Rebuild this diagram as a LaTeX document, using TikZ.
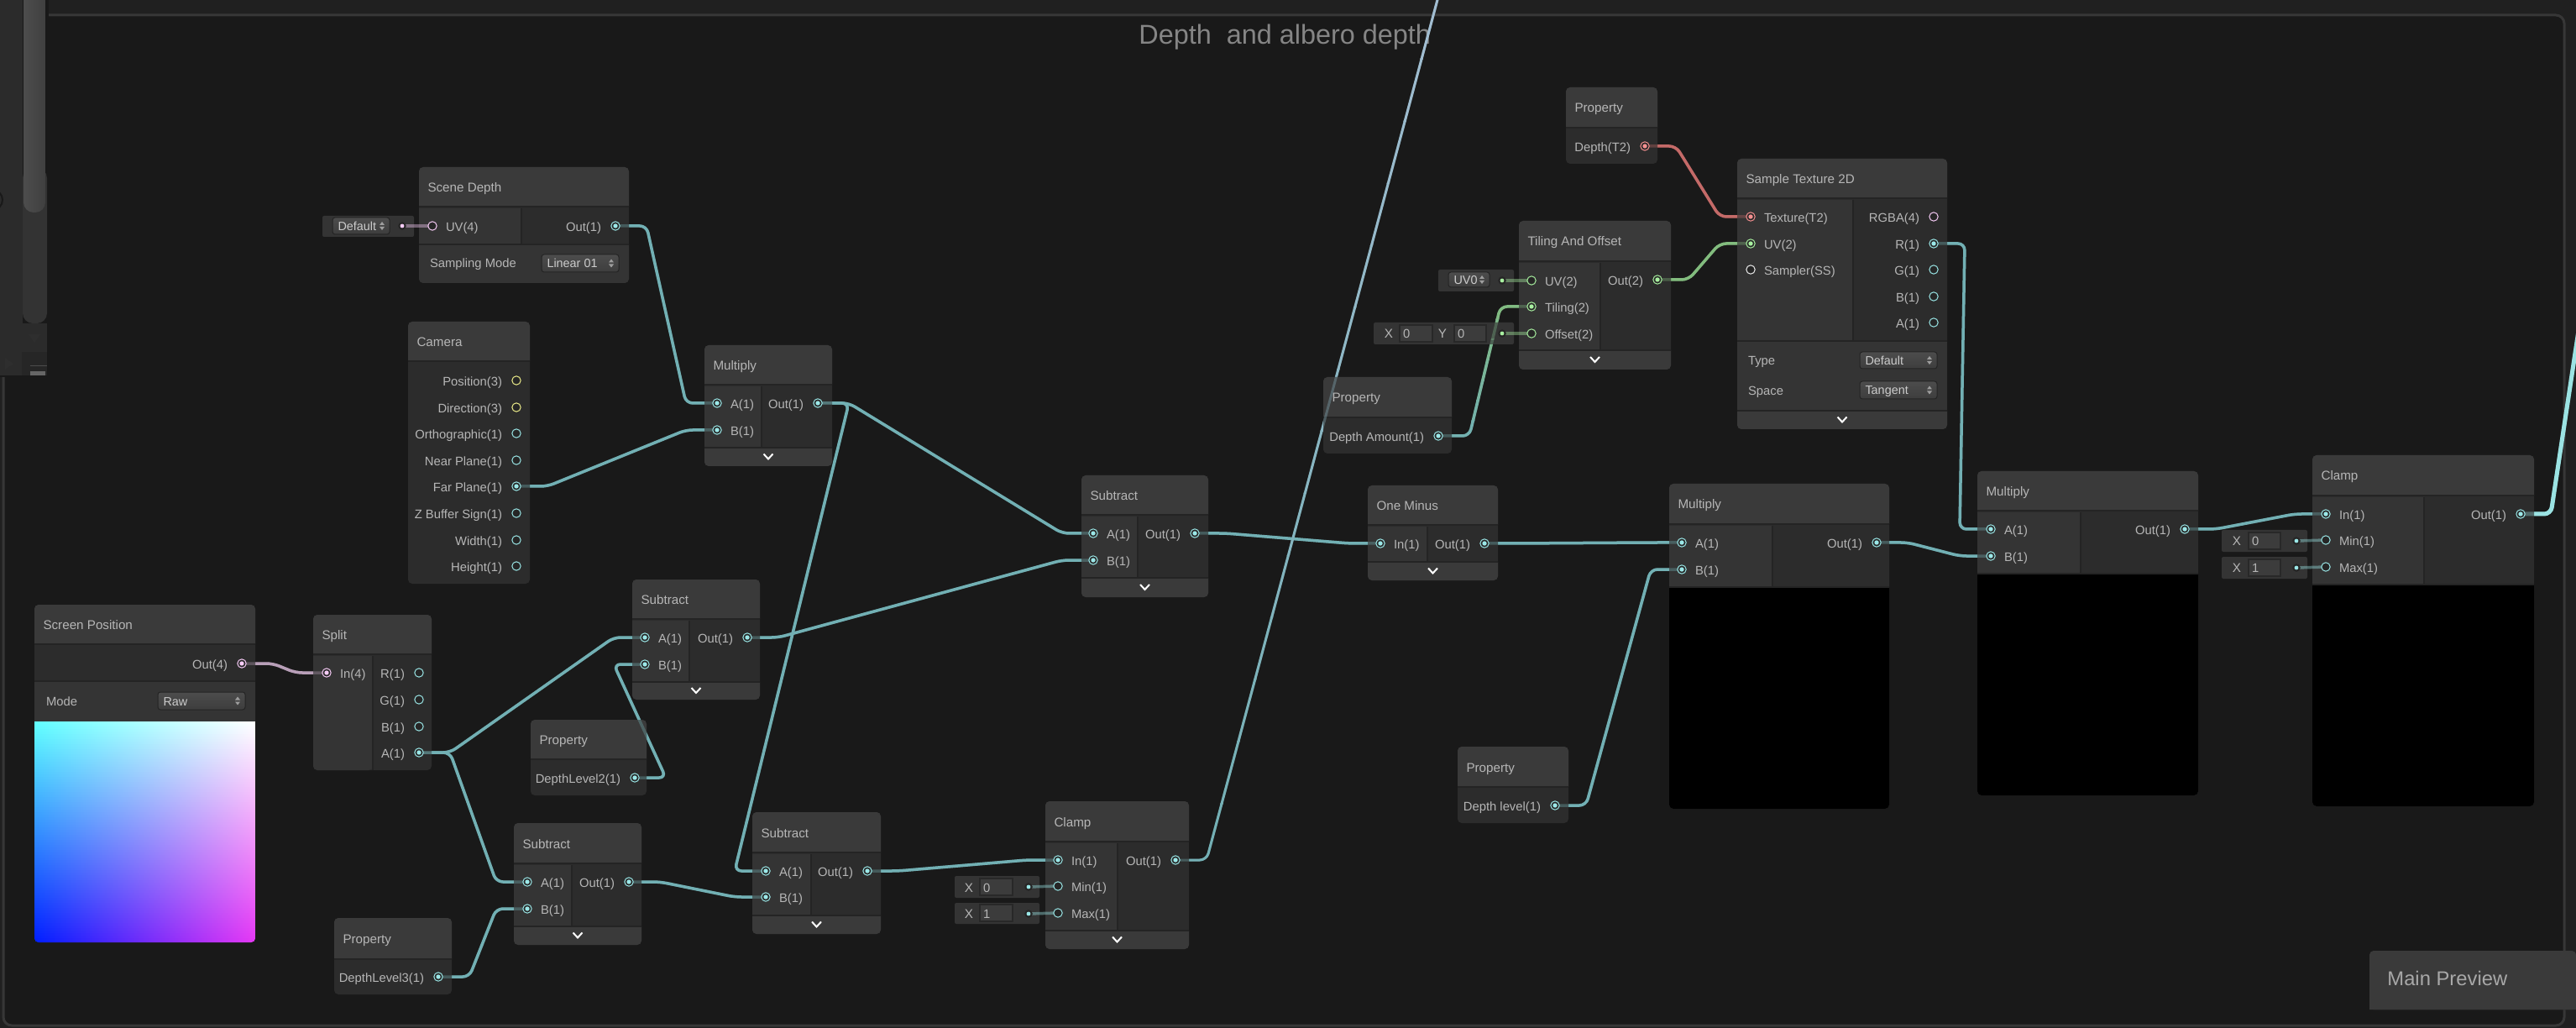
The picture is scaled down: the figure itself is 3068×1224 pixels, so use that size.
\documentclass[tikz,border=0pt]{standalone}
\usepackage{fontspec}
\setmainfont{Liberation Sans}
\usetikzlibrary{calc}
\definecolor{outerbg}{HTML}{202020}
\definecolor{innerbg}{HTML}{191919}
\definecolor{framec}{HTML}{373737}
\definecolor{hdrc}{HTML}{3A3A3A}
\definecolor{bodyc}{HTML}{2C2C2C}
\definecolor{colc}{HTML}{343434}
\definecolor{rulec}{HTML}{242424}
\definecolor{txtc}{HTML}{B6B6B6}
\definecolor{pfill}{HTML}{262626}
\definecolor{ccy}{HTML}{9BE8E8}
\definecolor{cye}{HTML}{F0F08C}
\definecolor{cpk}{HTML}{F7CCF7}
\definecolor{cgr}{HTML}{A8F0A0}
\definecolor{crd}{HTML}{F59090}
\definecolor{cwh}{HTML}{F0F0F0}
\definecolor{wteal}{HTML}{72B0B4}
\definecolor{wbright}{HTML}{9BE3E3}
\definecolor{wpink}{HTML}{B89FB8}
\definecolor{wgreen}{HTML}{82BC7E}
\definecolor{wred}{HTML}{C46A68}
\definecolor{wblue}{HTML}{A3BDD2}
\definecolor{btnline}{HTML}{242424}
\definecolor{fieldf}{HTML}{3C3C3C}
\definecolor{fieldl}{HTML}{282828}
\pgfdeclarelayer{base}
\pgfdeclarelayer{wireslow}
\pgfdeclarelayer{wireshigh}
\pgfdeclarelayer{portlayer}
\pgfsetlayers{base,wireslow,main,wireshigh,portlayer}
\tikzset{
  cardbody/.style={fill=bodyc,rounded corners=2.5pt,inner sep=0pt,outer sep=0pt,draw=none},
  hdr/.style={fill=hdrc},
  rule/.style={draw=rulec,line width=1pt},
  ttl/.style={anchor=base west,inner sep=0pt,outer sep=0pt,text=txtc,font=\fontsize{7.6}{9}\selectfont},
  lblw/.style={ttl,font=\fontsize{7.4}{9}\selectfont},
  lble/.style={lblw,anchor=base east},
  cport/.style={circle,draw=#1,fill=pfill,line width=.5pt,minimum size=5.2pt,inner sep=0pt,outer sep=0pt},
  cdot/.style={cport=#1,path picture={\fill[#1] (path picture bounding box.center) circle (1.35pt);}},
  wire/.style={line width=1.75pt,rounded corners=4pt,line cap=butt},
  stubw/.style={line width=1.75pt,opacity=.4},
  chipc/.style={fill=colc,rounded corners=1pt},
  fieldc/.style={fill=fieldf,draw=fieldl,line width=.6pt},
}
\newcount\lblc
\newcommand\nxt{\global\advance\lblc by 1 }
\newcommand\lab[3]{\nxt\node[lblw] (L\the\lblc) at ({#1},{(#2)+6.5}) {#3};}
\newcommand\labr[3]{\nxt\node[lble] (L\the\lblc) at ({#1},{(#2)+6.5}) {#3};}
\newcommand\card[7]{%
  \node[cardbody,minimum width={(#4-#2)*.5pt},minimum height={(#5-#3)*.5pt}] (#1) at ({(#2+#4)/2},{(#3+#5)/2}) {};
  \fill[hdr] (#2,#6) [rounded corners=2.5pt] -- (#2,#3) -- (#4,#3) [sharp corners] -- (#4,#6) -- cycle;
  \draw[rule] (#2,#6) -- (#4,#6);
  \node[ttl] (#1t) at ({#2+10.5},{(#3+#6)/2+6}) {#7};
}
\newcommand\incol[4]{\fill[colc] (#1,#2) rectangle (#3,#4);\draw[rule] (#3,#2) -- (#3,#4);}
\newcommand\botfill[5]{%
  \fill[#5] (#1,#2) [rounded corners=2.5pt] -- (#1,#4) -- (#3,#4) [sharp corners] -- (#3,#2) -- cycle;
  \draw[rule] (#1,#2) -- (#3,#2);}
\newcommand\foot[4]{\botfill{#1}{#2}{#3}{#4}{hdrc}%
  \draw[white,line width=1pt] ({(#1+#3)/2-5.5},{(#2+#4)/2-3.5}) -- ({(#1+#3)/2},{(#2+#4)/2+2.5}) -- ({(#1+#3)/2+5.5},{(#2+#4)/2-3.5});}
\newcommand\prevb[4]{\botfill{#1}{#2}{#3}{#4}{black}}
\newcommand\pn[5]{\begin{pgfonlayer}{portlayer}\node[#4] (#1) at (#2,#3) {};\end{pgfonlayer}}
\newcommand\ip[5]{\pn{#1}{#2}{#3}{#4}{}\lab{#2+16}{#3}{#5}}
\newcommand\op[5]{\pn{#1}{#2}{#3}{#4}{}\labr{#2-17}{#3}{#5}}
\newcommand\dotn[4]{\begin{pgfonlayer}{portlayer}\fill[black!85] (#2,#3) circle (2.4pt);\node[circle,fill=#4,inner sep=0pt,minimum size=2.4pt] (#1) at (#2,#3) {};\end{pgfonlayer}}
\newcommand\chip[4]{\fill[chipc] (#1,#2) rectangle (#3,#4);}
\newcommand\drop[5]{%
  \shade[top color=white!30!black,bottom color=white!24!black,draw=btnline,line width=.5pt,rounded corners=1.5pt] (#1,#2) rectangle (#3,#4);
  \nxt\node[lblw,text=white!80!black,font=\fontsize{7.2}{9}\selectfont] (L\the\lblc) at ({#1+6.5},{(#2+#4)/2+5.5}) {#5};
  \fill[white!62!black] ({#3-12},{(#2+#4)/2-1}) -- ({#3-9},{(#2+#4)/2-5}) -- ({#3-6},{(#2+#4)/2-1}) -- cycle;
  \fill[white!62!black] ({#3-12},{(#2+#4)/2+1}) -- ({#3-9},{(#2+#4)/2+5}) -- ({#3-6},{(#2+#4)/2+1}) -- cycle;}
\newcommand\field[5]{\fill[fieldc] (#1,#2) rectangle (#3,#4);
  \nxt\node[lblw] (L\the\lblc) at ({#1+4},{(#2+#4)/2+6}) {#5};}
\newcommand\axl[3]{\nxt\node[ttl,anchor=base] (L\the\lblc) at ({#1},{(#2)+6}) {#3};}
\newcommand\W[3]{\draw[wire,color=#3] (#1.center) -- ++(37,0) -- ($(#2.center)+(-37,0)$) -- (#2.center);}
\newcommand\GW[7]{\foreach \k in {1,...,#6}{%
   \pgfmathsetmacro\ya{#2+(#3-#2)*(\k-1)/#6}
   \pgfmathsetmacro\yb{#2+(#3-#2)*\k/#6+1}
   \pgfmathsetmacro\mx{100*(\k-.5)/#6}
   \begin{scope}\clip (0,\ya) rectangle (3068,\yb);\draw[wire,line width=#7,color={#5!\mx!#4}] #1;\end{scope}}}
\newcommand\wirelist{%
  \W{sdOut}{muAA}{wteal}
  \W{caFar}{muAB}{wteal}
  \W{spOut}{slIn}{wpink}
  \W{slA}{saA}{wteal}
  \W{slA}{sdA}{wteal}
  \W{pbOut}{saB}{wteal}
  \W{pcOut}{sdB}{wteal}
  \W{sdO}{scB}{wteal}
  \W{muAO}{sbA}{wteal}
  \W{muAO}{scA}{wteal}
  \W{saO}{sbB}{wteal}
  \W{scO}{clIn}{wteal}
  \W{sbO}{omIn}{wteal}
  \W{omO}{mbA}{wteal}
  \W{plO}{mbB}{wteal}
  \W{mbO}{mcB}{wteal}
  \W{pdO}{txT}{wred}
  \W{tiO}{txUV}{wgreen}
  \W{txR}{mcA}{wteal}
  \W{mcO}{crIn}{wteal}
  \GW{(clO.center) -- ++(37,0) -- (offtop)}{-4}{1030}{wblue}{wteal}{14}{1.5pt}
  \GW{(paO.center) -- ++(37,0) -- ($(tiT.center)+(-37,0)$) -- (tiT.center)}{355}{525}{wgreen}{wteal}{7}{1.75pt}
  \draw[wire,color=wbright,line width=2.5pt] (crO.center) -- ++(36,0) -- (offright);
}
\begin{document}
\begin{tikzpicture}[x=.5pt,y=-.5pt]
\useasboundingbox (0,0) rectangle (3068,1224);
\begin{pgfonlayer}{base}
  \fill[outerbg] (0,0) rectangle (3068,1224);
  \fill[innerbg,draw=framec,line width=1.5pt,rounded corners=5pt] (4,18) rectangle (3054,1221);
  \node[anchor=base west,inner sep=0pt,text=white!52!black,font=\fontsize{16.2}{18}\selectfont] (graphTitle) at (1356,53) {Depth\ \ and albero depth};
\end{pgfonlayer}
% left side panel
\fill[innerbg] (0,0) rectangle (58,449);
\fill[white!17!black] (0,0) rectangle (27,419);
\draw[white!10!black,line width=1pt] (-9,238) circle (6pt);
\fill[white!17!black] (27,385) rectangle (56,419);
\fill[white!20!black,rounded corners=6pt] (27,200) -- (27,385) -- (56,385) -- (56,200) -- cycle;
\shade[left color=white!30!black,right color=white!25!black,rounded corners=6pt] (28,-20) -- (28,253) -- (54,253) -- (54,-20) -- cycle;
\fill[black!82] (34,398) -- (48,398) -- (41,408) -- cycle;
\fill[white!17!black] (0,419) rectangle (26,447);
\fill[white!15!black] (26,419) rectangle (56,447);
\fill[black!82] (6,426) -- (16,433) -- (6,440) -- cycle;
\draw[black!70,line width=.5pt] (36,436) -- (56,436);
\fill[white!40!black] (36,442) rectangle (54,447);

% Scene Depth
\card{sd}{499}{199}{749}{337}{246}{Scene Depth}
\incol{499}{248}{621}{290}
\botfill{499}{291}{749}{337}{colc}
\chip{384}{257}{493}{282}
\drop{396}{259}{464}{279}{Default}
\dotn{sdc}{479}{269}{cpk}
\ip{sdUV}{515}{269}{cport=cpk}{UV(4)}
\op{sdOut}{733}{269}{cdot=ccy}{Out(1)}
\lab{512}{312}{Sampling Mode}
\drop{645}{303}{737}{324}{Linear 01}

% Camera
\card{ca}{486}{383}{631}{695}{430}{Camera}
\op{caPos}{615}{453}{cport=cye}{Position(3)}
\op{caDir}{615}{485}{cport=cye}{Direction(3)}
\op{caOr}{615}{516}{cport=ccy}{Orthographic(1)}
\op{caNe}{615}{548}{cport=ccy}{Near Plane(1)}
\op{caFar}{615}{579}{cdot=ccy}{Far Plane(1)}
\op{caZ}{615}{611}{cport=ccy}{Z Buffer Sign(1)}
\op{caW}{615}{643}{cport=ccy}{Width(1)}
\op{caH}{615}{674}{cport=ccy}{Height(1)}

% Screen Position
\card{sp}{41}{720}{304}{1122}{767}{Screen Position}
\op{spOut}{288}{790}{cdot=cpk}{Out(4)}
\fill[colc] (41,812) rectangle (304,859);
\draw[rule] (41,811) -- (304,811);
\lab{55}{834}{Mode}
\drop{188}{824}{292}{845}{Raw}
\begin{scope}
  \clip (41,859) [rounded corners=2.5pt] -- (41,1122) -- (304,1122) [sharp corners] -- (304,859) -- cycle;
  \foreach \i in {0,...,87}{%
    \pgfmathsetmacro\t{\i/87}
    \pgfmathsetmacro\rl{.38*(1-\t)}
    \pgfmathsetmacro\gl{1-.88*\t}
    \pgfmathsetmacro\rr{1-.1*\t}
    \pgfmathsetmacro\gr{1-.78*\t}
    \pgfmathsetmacro\br{1-.04*\t}
    \definecolor{cl}{rgb}{\rl,\gl,1}
    \definecolor{cr}{rgb}{\rr,\gr,\br}
    \shade[left color=cl,right color=cr] (41,{859+3*\i}) rectangle (304,{859+3*\i+4});
  }
\end{scope}

% Split
\card{sl}{373}{732}{514}{917}{779}{Split}
\fill[colc] (444,781) -- (373,781) [rounded corners=2.5pt] -- (373,917) -- (444,917) [sharp corners] -- cycle;
\draw[rule] (444,781) -- (444,917);
\ip{slIn}{389}{801}{cdot=cpk}{In(4)}
\op{slR}{499}{801}{cport=ccy}{R(1)}
\op{slG}{499}{833}{cport=ccy}{G(1)}
\op{slB}{499}{865}{cport=ccy}{B(1)}
\op{slA}{499}{896}{cdot=ccy}{A(1)}

% Subtract top (a)
\card{sa}{753}{690}{905}{833}{737}{Subtract}
\incol{753}{739}{821}{812}
\foot{753}{812}{905}{833}
\ip{saA}{768}{759}{cdot=ccy}{A(1)}
\ip{saB}{768}{791}{cdot=ccy}{B(1)}
\op{saO}{890}{759}{cdot=ccy}{Out(1)}

% Property DepthLevel2
\card{pb}{632}{857}{770}{947}{904}{Property}
\op{pbOut}{756}{926}{cdot=ccy}{DepthLevel2(1)}

% Subtract left bottom (d)
\card{sdd}{612}{980}{764}{1125}{1028}{Subtract}
\incol{612}{1030}{681}{1103}
\foot{612}{1103}{764}{1125}
\ip{sdA}{628}{1050}{cdot=ccy}{A(1)}
\ip{sdB}{628}{1082}{cdot=ccy}{B(1)}
\op{sdO}{749}{1050}{cdot=ccy}{Out(1)}

% Property DepthLevel3
\card{pc}{398}{1093}{538}{1184}{1142}{Property}
\op{pcOut}{522}{1163}{cdot=ccy}{DepthLevel3(1)}

% Multiply A
\card{mua}{839}{411}{991}{555}{458}{Multiply}
\incol{839}{460}{907}{533}
\foot{839}{533}{991}{555}
\ip{muAA}{854}{480}{cdot=ccy}{A(1)}
\ip{muAB}{854}{512}{cdot=ccy}{B(1)}
\op{muAO}{974}{480}{cdot=ccy}{Out(1)}

% Subtract b
\card{sb}{1288}{566}{1439}{711}{613}{Subtract}
\incol{1288}{615}{1355}{688}
\foot{1288}{688}{1439}{711}
\ip{sbA}{1302}{635}{cdot=ccy}{A(1)}
\ip{sbB}{1302}{667}{cdot=ccy}{B(1)}
\op{sbO}{1423}{635}{cdot=ccy}{Out(1)}

% Subtract c
\card{sc}{896}{967}{1049}{1112}{1015}{Subtract}
\incol{896}{1017}{966}{1090}
\foot{896}{1090}{1049}{1112}
\ip{scA}{912}{1037}{cdot=ccy}{A(1)}
\ip{scB}{912}{1068}{cdot=ccy}{B(1)}
\op{scO}{1033}{1037}{cdot=ccy}{Out(1)}

% Clamp bottom
\card{cl}{1245}{954}{1416}{1130}{1002}{Clamp}
\incol{1245}{1004}{1331}{1108}
\foot{1245}{1108}{1416}{1130}
\ip{clIn}{1260}{1024}{cdot=ccy}{In(1)}
\ip{clMin}{1260}{1055}{cport=ccy}{Min(1)}
\ip{clMax}{1260}{1087}{cport=ccy}{Max(1)}
\op{clO}{1400}{1024}{cdot=ccy}{Out(1)}
\chip{1137}{1043}{1238}{1069}
\axl{1154}{1056}{X}
\field{1167}{1046}{1206}{1066}{0}
\dotn{clc1}{1225}{1056}{ccy}
\chip{1137}{1075}{1238}{1100}
\axl{1154}{1087}{X}
\field{1167}{1077}{1206}{1097}{1}
\dotn{clc2}{1225}{1088}{ccy}
\coordinate (offtop) at (1713,-4);

% One Minus
\card{om}{1629}{578}{1784}{691}{625}{One Minus}
\incol{1629}{627}{1700}{669}
\foot{1629}{669}{1784}{691}
\ip{omIn}{1644}{647}{cdot=ccy}{In(1)}
\op{omO}{1768}{647}{cdot=ccy}{Out(1)}

% Multiply big B
\card{mb}{1988}{576}{2250}{963}{624}{Multiply}
\incol{1988}{626}{2111}{699}
\prevb{1988}{699}{2250}{963}
\ip{mbA}{2003}{646}{cdot=ccy}{A(1)}
\ip{mbB}{2003}{678}{cdot=ccy}{B(1)}
\op{mbO}{2235}{646}{cdot=ccy}{Out(1)}

% Property Depth level
\card{pl}{1736}{889}{1868}{980}{937}{Property}
\op{plO}{1852}{959}{cdot=ccy}{Depth level(1)}

% Property Depth Amount
\card{pa}{1576}{449}{1729}{540}{497}{Property}
\op{paO}{1713}{519}{cdot=ccy}{Depth Amount(1)}

% Property Depth
\card{pd}{1865}{104}{1974}{195}{152}{Property}
\op{pdO}{1959}{174}{cdot=crd}{Depth(T2)}

% Tiling And Offset
\card{ti}{1809}{263}{1990}{440}{311}{Tiling And Offset}
\incol{1809}{313}{1906}{417}
\foot{1809}{417}{1990}{440}
\ip{tiUV}{1824}{334}{cport=cgr}{UV(2)}
\ip{tiT}{1824}{365}{cdot=cgr}{Tiling(2)}
\ip{tiF}{1824}{397}{cport=cgr}{Offset(2)}
\op{tiO}{1974}{333}{cdot=cgr}{Out(2)}
\chip{1713}{321}{1803}{347}
\drop{1725}{324}{1774}{342}{UV0}
\dotn{tic1}{1789}{334}{cgr}
\chip{1636}{384}{1803}{410}
\axl{1654}{397}{X}
\field{1667}{387}{1706}{407}{0}
\axl{1718}{397}{Y}
\field{1732}{387}{1770}{407}{0}
\dotn{tic2}{1789}{397}{cgr}

% Sample Texture 2D
\card{tx}{2069}{189}{2319}{511}{236}{Sample Texture 2D}
\incol{2069}{238}{2207}{405}
\fill[colc] (2069,407) rectangle (2319,488);
\draw[rule] (2069,406) -- (2319,406);
\foot{2069}{489}{2319}{511}
\ip{txT}{2085}{258}{cdot=crd}{Texture(T2)}
\ip{txUV}{2085}{290}{cdot=cgr}{UV(2)}
\ip{txS}{2085}{321}{cport=cwh}{Sampler(SS)}
\op{txRGBA}{2303}{258}{cport=cpk}{RGBA(4)}
\op{txR}{2303}{290}{cdot=ccy}{R(1)}
\op{txG}{2303}{321}{cport=ccy}{G(1)}
\op{txB}{2303}{353}{cport=ccy}{B(1)}
\op{txA}{2303}{384}{cport=ccy}{A(1)}
\lab{2082}{428}{Type}
\lab{2082}{464}{Space}
\drop{2215}{419}{2307}{439}{Default}
\drop{2215}{454}{2307}{475}{Tangent}

% Multiply C
\card{mc}{2355}{561}{2618}{947}{608}{Multiply}
\incol{2355}{610}{2478}{683}
\prevb{2355}{683}{2618}{947}
\ip{mcA}{2371}{630}{cdot=ccy}{A(1)}
\ip{mcB}{2371}{662}{cdot=ccy}{B(1)}
\op{mcO}{2602}{630}{cdot=ccy}{Out(1)}

% Clamp right
\card{cr}{2754}{542}{3018}{960}{590}{Clamp}
\incol{2754}{592}{2887}{696}
\prevb{2754}{696}{3018}{960}
\ip{crIn}{2770}{612}{cdot=ccy}{In(1)}
\ip{crMin}{2770}{643}{cport=ccy}{Min(1)}
\ip{crMax}{2770}{675}{cport=ccy}{Max(1)}
\op{crO}{3002}{612}{cdot=ccy}{Out(1)}
\chip{2646}{631}{2748}{657}
\axl{2664}{644}{X}
\field{2678}{634}{2716}{654}{0}
\dotn{crc1}{2735}{644}{ccy}
\chip{2646}{663}{2748}{689}
\axl{2664}{676}{X}
\field{2678}{666}{2716}{686}{1}
\dotn{crc2}{2735}{676}{ccy}
\coordinate (offright) at (3074,374);

% Main Preview
\node[fill=bodyc,inner sep=0pt,minimum width=123pt,minimum height=35pt,anchor=north west,rounded corners=2.5pt] (mp) at (2822,1132) {};
\fill[hdrc] (2822,1202) [rounded corners=2.5pt] -- (2822,1132) -- (3068,1132) [sharp corners] -- (3068,1202) -- cycle;
\node[anchor=base west,inner sep=0pt,text=white!66!black,font=\fontsize{11.9}{14}\selectfont] (mpt) at (2843,1173) {Main Preview};

% connectors
\begin{pgfonlayer}{wireslow}
  \wirelist
\end{pgfonlayer}
\begin{pgfonlayer}{wireshigh}
  \begin{scope}[opacity=.35]
    \wirelist
  \end{scope}
  \draw[stubw,cpk] (sdc) -- (sdUV);
  \draw[stubw,ccy] (clc1) -- (clMin);
  \draw[stubw,ccy] (clc2) -- (clMax);
  \draw[stubw,cgr] (tic1) -- (tiUV);
  \draw[stubw,cgr] (tic2) -- (tiF);
  \draw[stubw,ccy] (crc1) -- (crMin);
  \draw[stubw,ccy] (crc2) -- (crMax);
\end{pgfonlayer}
\end{tikzpicture}
\end{document}
